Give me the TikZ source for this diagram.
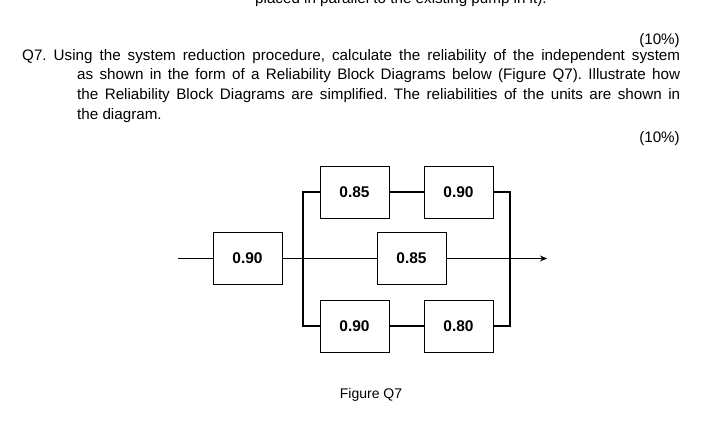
\documentclass[tikz,border=0pt]{standalone}
\usepackage{fontspec}
\setmainfont{Liberation Sans}
\usetikzlibrary{arrows.meta}
\begin{document}
\begin{tikzpicture}[x=1pt,y=-1pt,
  blk/.style={draw,line width=1pt,minimum width=69pt,minimum height=52pt,inner sep=0pt,font=\fontsize{15.5}{17}\selectfont\bfseries},
  ln/.style={line width=1.1pt},
  txt/.style={font=\fontsize{15.2}{19.7}\selectfont,inner sep=0pt}]
\useasboundingbox (0,0) rectangle (718,428);
\node[txt,anchor=base west] (cut) at (255,4) {placed in parallel to the existing pump in it).};
\node[txt,anchor=base east] (p1) at (680,45) {(10\%)};
\node[txt,anchor=north west] (q) at (22,49) {\parbox{658pt}{\frenchspacing\hangindent=55pt\hangafter=1 Q7. Using the system reduction procedure, calculate the reliability of the independent system\linebreak as shown in the form of a Reliability Block Diagrams below (Figure Q7). Illustrate how\linebreak the Reliability Block Diagrams are simplified. The reliabilities of the units are shown in\linebreak the diagram.}};
\node[txt,anchor=base east] (p2) at (680,142) {(10\%)};
\node[blk] (a) at (247.5,258.5) {0.90};
\node[blk] (t1) at (354.5,192) {0.85};
\node[blk] (t2) at (458.5,192) {0.90};
\node[blk] (m) at (411.5,258.5) {0.85};
\node[blk] (b1) at (354.5,326) {0.90};
\node[blk] (b2) at (458.5,326) {0.80};
\coordinate (in) at (178,258.5);
\coordinate (out) at (547,258.5);
\coordinate (s) at (303,258.5);
\coordinate (j) at (510,258.5);
\draw[ln] (in) -- (a.west);
\draw[ln] (a.east) -- (m.west);
\draw[ln] (t1.west) -| (s) |- (b1.west);
\draw[ln] (t1) -- (t2);
\draw[ln] (b1) -- (b2);
\draw[ln] (t2.east) -| (j) |- (b2.east);
\draw[ln,-{Stealth[length=7pt,width=6pt]}] (m.east) -- (out);
\node[font=\fontsize{14}{16}\selectfont] (cap) at (371,395) {Figure Q7};
\end{tikzpicture}
\end{document}
